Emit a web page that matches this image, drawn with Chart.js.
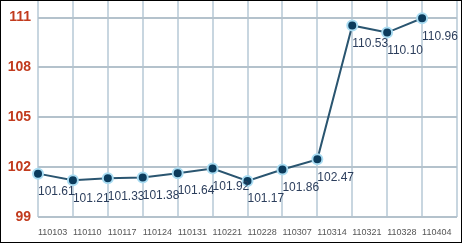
<!DOCTYPE html>
<html>
<head>
<meta charset="utf-8">
<script src="https://cdn.jsdelivr.net/npm/chart.js@4"></script>
<style>
  html, body { margin: 0; padding: 0; background: #fff; }
  #wrap { width: 460px; height: 241px; border: 1px solid #000; position: relative; }
</style>
</head>
<body>
<div id="wrap"><canvas id="trendChart" width="460" height="241"></canvas></div>
<script>
const dates = ['110103', '110110', '110117', '110124', '110131', '110221', '110228', '110307', '110314', '110321', '110328', '110404'];
const prices = [101.61, 101.21, 101.33, 101.38, 101.64, 101.92, 101.17, 101.86, 102.47, 110.53, 110.10, 110.96];
const yTicks = [99, 102, 105, 108, 111];

// value labels under each point
const valueLabels = {
  id: 'valueLabels',
  afterDatasetsDraw(chart) {
    const c = chart.ctx;
    const meta = chart.getDatasetMeta(0);
    c.save();
    c.font = '12px Arial, "Liberation Sans", sans-serif';
    c.fillStyle = '#2c3e5c';
    c.textAlign = 'left';
    c.textBaseline = 'middle';
    meta.data.forEach(function(pt, i) {
      c.fillText(prices[i].toFixed(2), pt.x, pt.y + 18);
    });
    c.restore();
  }
};

function noPad(s) {
  s.paddingTop = 0;
  s.paddingBottom = 0;
  s.paddingLeft = 0;
  s.paddingRight = 0;
}

new Chart(document.getElementById('trendChart'), {
  type: 'line',
  data: {
    datasets: [{
      data: prices.map(function(v, i) { return { x: i, y: v }; }),
      borderColor: '#2a5570',
      borderWidth: 2,
      pointBackgroundColor: '#0b3b5c',
      pointBorderColor: '#a9dcf2',
      pointBorderWidth: 2,
      pointRadius: 5,
      tension: 0,
      clip: false
    }]
  },
  options: {
    responsive: false,
    animation: false,
    layout: { autoPadding: false, padding: { top: 0, right: 4, left: 0, bottom: 0 } },
    plugins: {
      legend: { display: false },
      tooltip: { enabled: false }
    },
    scales: {
      x: {
        type: 'linear',
        min: 0,
        max: dates.length,
        afterFit: function(s) { s.height = 25; noPad(s); },
        afterBuildTicks: function(s) {
          s.ticks = [];
          for (let i = 0; i <= dates.length; i++) s.ticks.push({ value: i });
        },
        grid: { color: '#c8d6e0', lineWidth: 2, drawTicks: false },
        border: { display: false },
        ticks: {
          autoSkip: false,
          maxRotation: 0,
          align: 'start',
          padding: 10,
          color: '#555',
          font: { family: 'Arial, "Liberation Sans", sans-serif', size: 9 },
          callback: function(v) { return dates[v] || ''; }
        }
      },
      y: {
        min: 99,
        max: 112,
        afterFit: function(s) { s.width = 37; noPad(s); },
        afterBuildTicks: function(s) {
          s.ticks = yTicks.map(function(v) { return { value: v }; });
        },
        grid: { color: '#b4c2cc', lineWidth: 2, drawTicks: false },
        border: { display: false },
        ticks: {
          padding: 7,
          color: '#c23b1e',
          font: { family: 'Arial, "Liberation Sans", sans-serif', size: 14, weight: 'bold' }
        }
      }
    }
  },
  plugins: [valueLabels]
});
</script>
</body>
</html>
